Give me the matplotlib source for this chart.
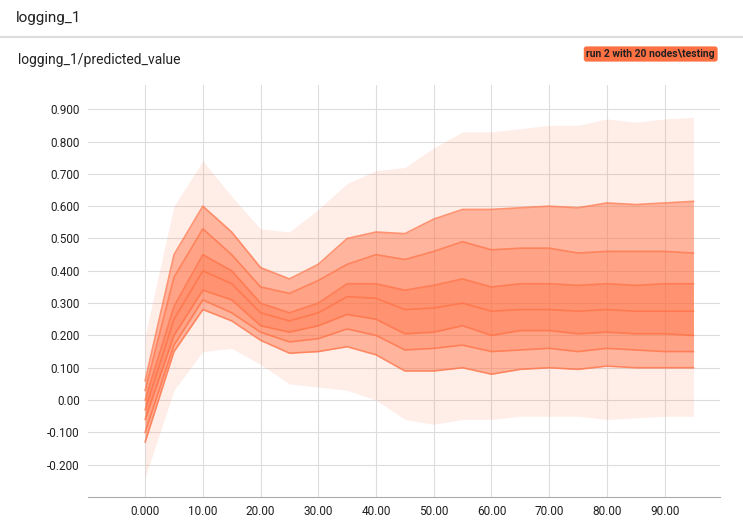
import matplotlib
matplotlib.use("Agg")
import matplotlib.pyplot as plt
import numpy as np

steps = list(range(0, 100, 5))
p_max = [0.20,0.60,0.74,0.63,0.53,0.52,0.59,0.67,0.71,0.72,0.78,0.83,0.83,0.84,0.85,0.85,0.87,0.86,0.87,0.875]
p93 = [0.06,0.45,0.60,0.52,0.41,0.375,0.42,0.50,0.52,0.515,0.56,0.59,0.59,0.595,0.60,0.595,0.61,0.605,0.61,0.615]
p84 = [0.03,0.38,0.53,0.45,0.35,0.33,0.37,0.42,0.45,0.435,0.46,0.49,0.465,0.47,0.47,0.455,0.46,0.46,0.46,0.455]
p69 = [0.00,0.29,0.45,0.40,0.30,0.27,0.30,0.36,0.36,0.34,0.355,0.375,0.35,0.36,0.36,0.355,0.36,0.355,0.36,0.36]
p50 = [-0.03,0.25,0.40,0.36,0.27,0.245,0.27,0.32,0.315,0.28,0.285,0.30,0.275,0.28,0.28,0.275,0.28,0.275,0.275,0.275]
p31 = [-0.06,0.20,0.34,0.31,0.23,0.21,0.23,0.265,0.25,0.205,0.21,0.23,0.20,0.215,0.215,0.205,0.21,0.205,0.205,0.20]
p16 = [-0.10,0.17,0.31,0.27,0.21,0.18,0.19,0.22,0.20,0.155,0.16,0.17,0.15,0.155,0.16,0.15,0.16,0.155,0.15,0.15]
p07 = [-0.13,0.15,0.28,0.245,0.185,0.145,0.15,0.165,0.14,0.09,0.09,0.10,0.08,0.095,0.10,0.095,0.105,0.10,0.10,0.10]
p_min = [-0.24,0.03,0.15,0.16,0.11,0.05,0.04,0.03,0.00,-0.06,-0.075,-0.06,-0.06,-0.05,-0.05,-0.05,-0.06,-0.055,-0.05,-0.05]
xticks = [0,10,20,30,40,50,60,70,80,90]
xticklabels = ["0.000","10.00","20.00","30.00","40.00","50.00","60.00","70.00","80.00","90.00"]
yticks = [-0.2,-0.1,0,0.1,0.2,0.3,0.4,0.5,0.6,0.7,0.8,0.9]
yticklabels = ["-0.200","-0.100","0.00","0.100","0.200","0.300","0.400","0.500","0.600","0.700","0.800","0.900"]

c = "#ff7043"
fig = plt.figure(figsize=(7.43, 5.2), dpi=100)
fig.patches.append(plt.Rectangle((0, 1-37/520), 1, 37/520, transform=fig.transFigure, color="#ffffff", zorder=0))
fig.add_artist(plt.Line2D([0, 1], [1-37/520, 1-37/520], color="#dddddd", lw=1.5))
fig.text(16/743, 1-18/520, "logging_1", fontsize=11, va="center", color="#212121", family="Roboto")
fig.text(18/743, 1-60/520, "logging_1/predicted_value", fontsize=10, va="center", color="#212121", family="Roboto")
fig.text(715/743, 1-54/520, "run 2 with 20 nodes\\testing", fontsize=7.5, fontweight="bold", ha="right", va="center",
         color="#212121", family="Roboto", bbox=dict(boxstyle="round,pad=0.25", fc=c, ec="none"))

ax = fig.add_axes([88/743, 1-497/520, 632/743, 412/520])
ax.fill_between(steps, p_min, p_max, color=c, alpha=0.12, lw=0)
ax.fill_between(steps, p07, p93, color=c, alpha=0.45, lw=0)
ax.fill_between(steps, p16, p84, color=c, alpha=0.25, lw=0)
ax.fill_between(steps, p31, p69, color=c, alpha=0.3, lw=0)
for s in [p93, p84, p69, p50, p31, p16, p07]:
    ax.plot(steps, s, color=c, lw=1.2, alpha=0.7)
ax.set_xlim(-9.9, 99.6)
ax.set_ylim(-0.30, 0.975)
ax.set_xticks(xticks)
ax.set_xticklabels(xticklabels)
ax.set_yticks(yticks)
ax.set_yticklabels(yticklabels)
ax.grid(True, color="#dddddd", lw=0.8)
ax.set_axisbelow(True)
for sp in ["top", "right", "left"]:
    ax.spines[sp].set_visible(False)
ax.spines["bottom"].set_color("#aaaaaa")
ax.tick_params(length=0, labelsize=8.5, labelcolor="#212121", pad=6)
for l in ax.get_xticklabels() + ax.get_yticklabels():
    l.set_family("Roboto")
fig.savefig("out.png", dpi=100)
